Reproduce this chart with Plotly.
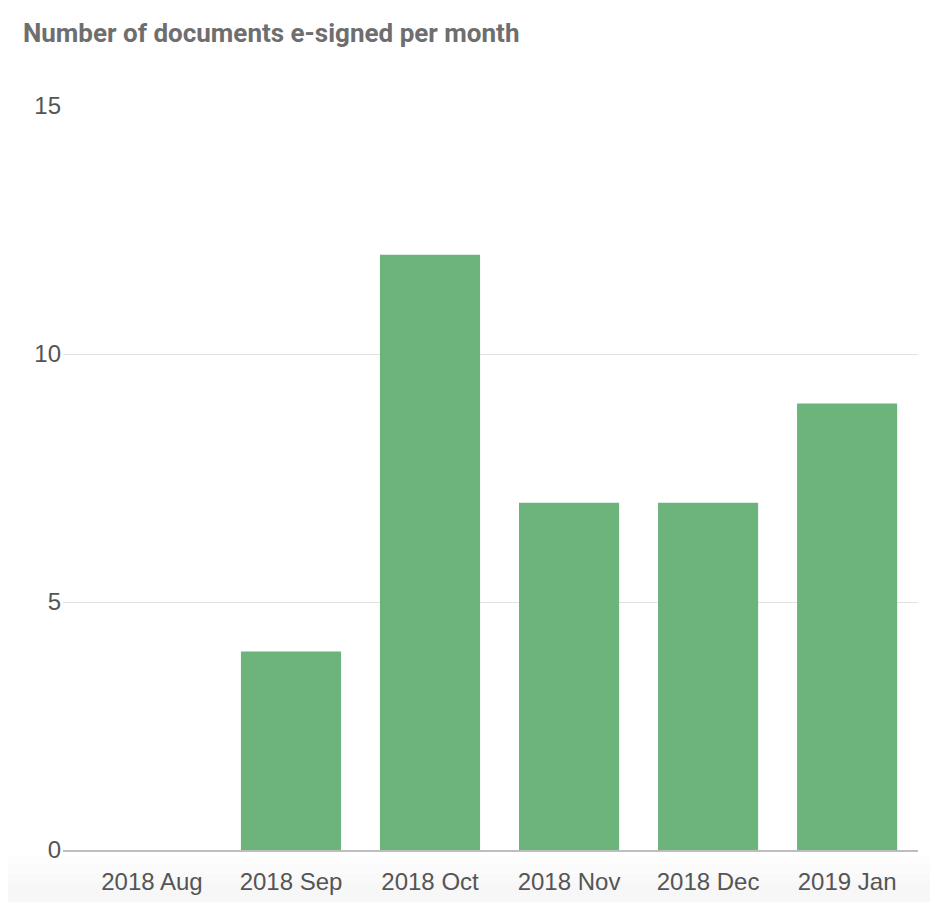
import plotly.graph_objects as go

months = ["2018 Aug", "2018 Sep", "2018 Oct", "2018 Nov", "2018 Dec", "2019 Jan"]
documents = [0, 4, 12, 7, 7, 9]
y_ticks = [0, 5, 10, 15]

fig = go.Figure()
fig.add_trace(go.Bar(
    x=months,
    y=documents,
    marker=dict(color="#6cb37c", line=dict(width=0)),
    hoverinfo="x+y",
))

# faint grey fade under the axis, like the page footer in the original
fade = ["#fdfdfd", "#fbfbfb", "#f9f9f9", "#f7f7f7"]
for i, c in enumerate(fade):
    fig.add_shape(type="rect", xref="paper", yref="paper",
                  x0=-0.1, x1=1.1, y0=-0.07, y1=-0.008 - i * 0.012,
                  fillcolor=c, line=dict(width=0), layer="below")

fig.update_layout(
    width=930,
    height=900,
    margin=dict(l=55, r=20, t=98, b=58),
    paper_bgcolor="white",
    plot_bgcolor="white",
    bargap=0.28,
    showlegend=False,
    title=dict(
        text="<b>Number of documents e-signed per month</b>",
        x=0.016, xanchor="left",
        y=0.972, yanchor="middle",
        font=dict(family="Roboto", size=26, color="#6e6e6e"),
    ),
    font=dict(family="Liberation Sans", size=24, color="#555555"),
)
fig.update_xaxes(
    range=[-0.64, 5.51],
    showgrid=False,
    showline=True,
    linecolor="#bdbdbd",
    linewidth=2,
    ticks="",
    ticklabelstandoff=9,
    tickfont=dict(family="Liberation Sans", size=24, color="#555555"),
    fixedrange=True,
)
fig.update_yaxes(
    range=[0, 15],
    tickvals=y_ticks,
    showgrid=True,
    gridcolor="#e2e2e2",
    gridwidth=1,
    zeroline=False,
    showline=False,
    ticks="",
    ticklabelstandoff=1,
    tickfont=dict(family="Liberation Sans", size=24, color="#555555"),
    fixedrange=True,
)

fig.write_html("out.html")
